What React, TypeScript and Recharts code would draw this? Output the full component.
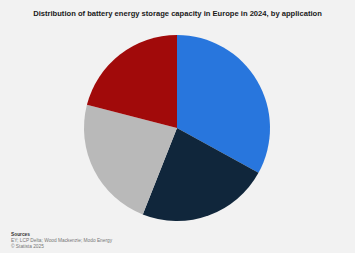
import { PieChart, Pie, Cell } from 'recharts'

const categories = ['Utility-scale', 'Commercial & industrial', 'Residential', 'Other']
const shares = [33, 23, 23, 21]
const colors = ['#2876dd', '#10263b', '#b9b9b9', '#a10a0a']

const sourceLines = ['Sources', 'EY; LCP Delta; Wood Mackenzie; Modo Energy', '© Statista 2025']

const data = categories.map((name, i) => ({ name, value: shares[i] }))

export default function App() {
  return (
    <div
      style={{
        position: 'fixed',
        left: 0,
        top: 0,
        width: 355,
        height: 253,
        background: '#f2f2f2',
        fontFamily: 'Arial, "Liberation Sans", sans-serif',
      }}
    >
      <div
        style={{
          position: 'absolute',
          top: 9,
          width: 355,
          textAlign: 'center',
          fontSize: 7.6,
          fontWeight: 'bold',
          color: '#1a1a1a',
        }}
      >
        Distribution of battery energy storage capacity in Europe in 2024, by application
      </div>
      <PieChart
        width={355}
        height={253}
        margin={{ top: 0, right: 0, bottom: 0, left: 0 }}
        style={{ position: 'absolute', left: 0, top: 0 }}
      >
        <Pie
          data={data}
          dataKey="value"
          nameKey="name"
          cx={177}
          cy={128}
          outerRadius={93}
          startAngle={90}
          endAngle={-270}
          stroke="none"
          isAnimationActive={false}
        >
          {data.map((d, i) => (
            <Cell key={d.name} fill={colors[i]} />
          ))}
        </Pie>
      </PieChart>
      <div
        style={{
          position: 'absolute',
          left: 11,
          top: 232,
          fontSize: 4.8,
          lineHeight: '6px',
          color: '#666',
        }}
      >
        {sourceLines.map((l, i) => (
          <div key={i} style={{ fontWeight: i === 0 ? 'bold' : 'normal', color: i === 0 ? '#333' : '#777' }}>
            {l}
          </div>
        ))}
      </div>
    </div>
  )
}
